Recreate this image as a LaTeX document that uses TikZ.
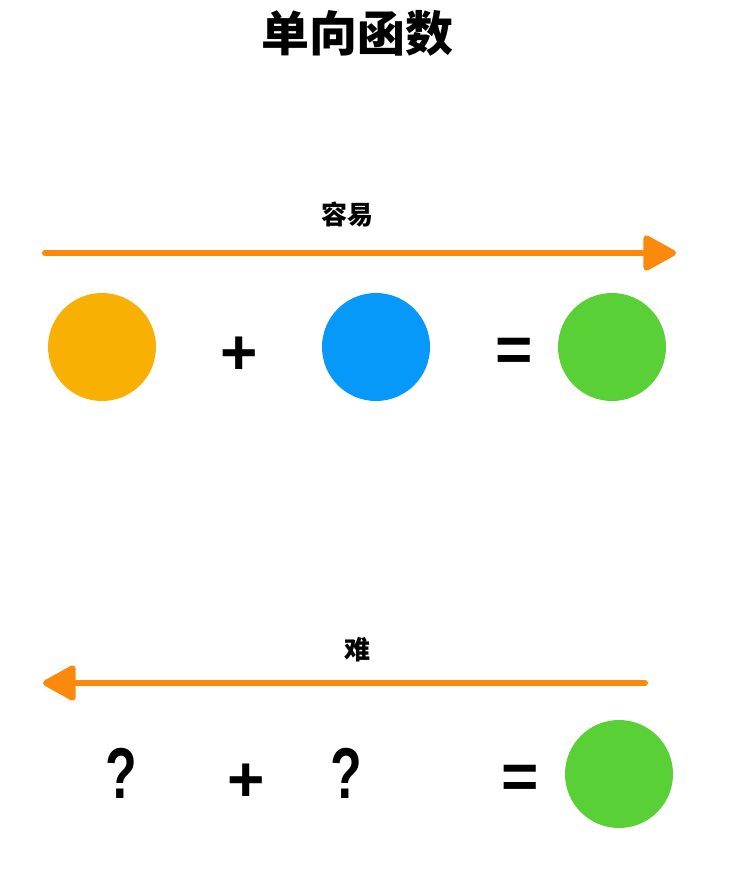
\documentclass[tikz,border=0pt]{standalone}
\usepackage{fontspec}
\setmainfont{Noto Sans CJK SC}
\newfontfamily\symfont{Liberation Sans}
\usetikzlibrary{arrows.meta,
                positioning}
\definecolor{ballA}{HTML}{F8B102}
\definecolor{ballB}{HTML}{0699FA}
\definecolor{ballC}{HTML}{58D036}
\definecolor{arrowc}{HTML}{FB8A0C}
\newcommand{\narrowq}{\scalebox{0.72}[1]{?}}

\begin{document}
\begin{tikzpicture}[x=1pt, y=-1pt,
ball/.style = {circle, minimum size=108pt, inner sep=0pt, fill=#1},
sym/.style  = {inner sep=0pt, font=\symfont\fontsize{64}{64}\selectfont\bfseries},
ask/.style  = {inner sep=0pt, font=\symfont\fontsize{72}{72}\selectfont\bfseries},
lbl/.style  = {inner sep=0pt, font=\fontsize{26}{26}\selectfont\bfseries},
way/.style  = {draw=arrowc, line width=6pt, line cap=round,
               -{Triangle[length=36pt, width=38pt, round]}}
                        ]
    \useasboundingbox (0,0) rectangle (743,875);
    \node (title) at (357,33) {\fontsize{48}{48}\selectfont\bfseries 单向函数};

    % easy direction
    \node[lbl] (easy) at (347,215) {容易};
    \coordinate (e1) at (45,253);
    \coordinate (e2) at (676,253);
    \draw[way] (e1) -- (e2);

    \node[ball=ballA] (a)  at (102,347) {};
    \node[sym]        (p1) at (239,356) {+};
    \node[ball=ballB] (b)  at (376,347) {};
    \node[sym]        (q1) at (514,355) {=};
    \node[ball=ballC] (c)  at (612,347) {};

    % hard direction
    \node[lbl] (hard) at (357,650) {难};
    \coordinate (h1) at (645,683);
    \coordinate (h2) at (43,683);
    \draw[way] (h1) -- (h2);

    \node[ask]        (x)  at (121,773) {\narrowq};
    \node[sym]        (p2) at (246,783) {+};
    \node[ask]        (y)  at (346,773) {\narrowq};
    \node[sym]        (q2) at (520,782) {=};
    \node[ball=ballC] (c2) at (619,774) {};
\end{tikzpicture}
\end{document}
